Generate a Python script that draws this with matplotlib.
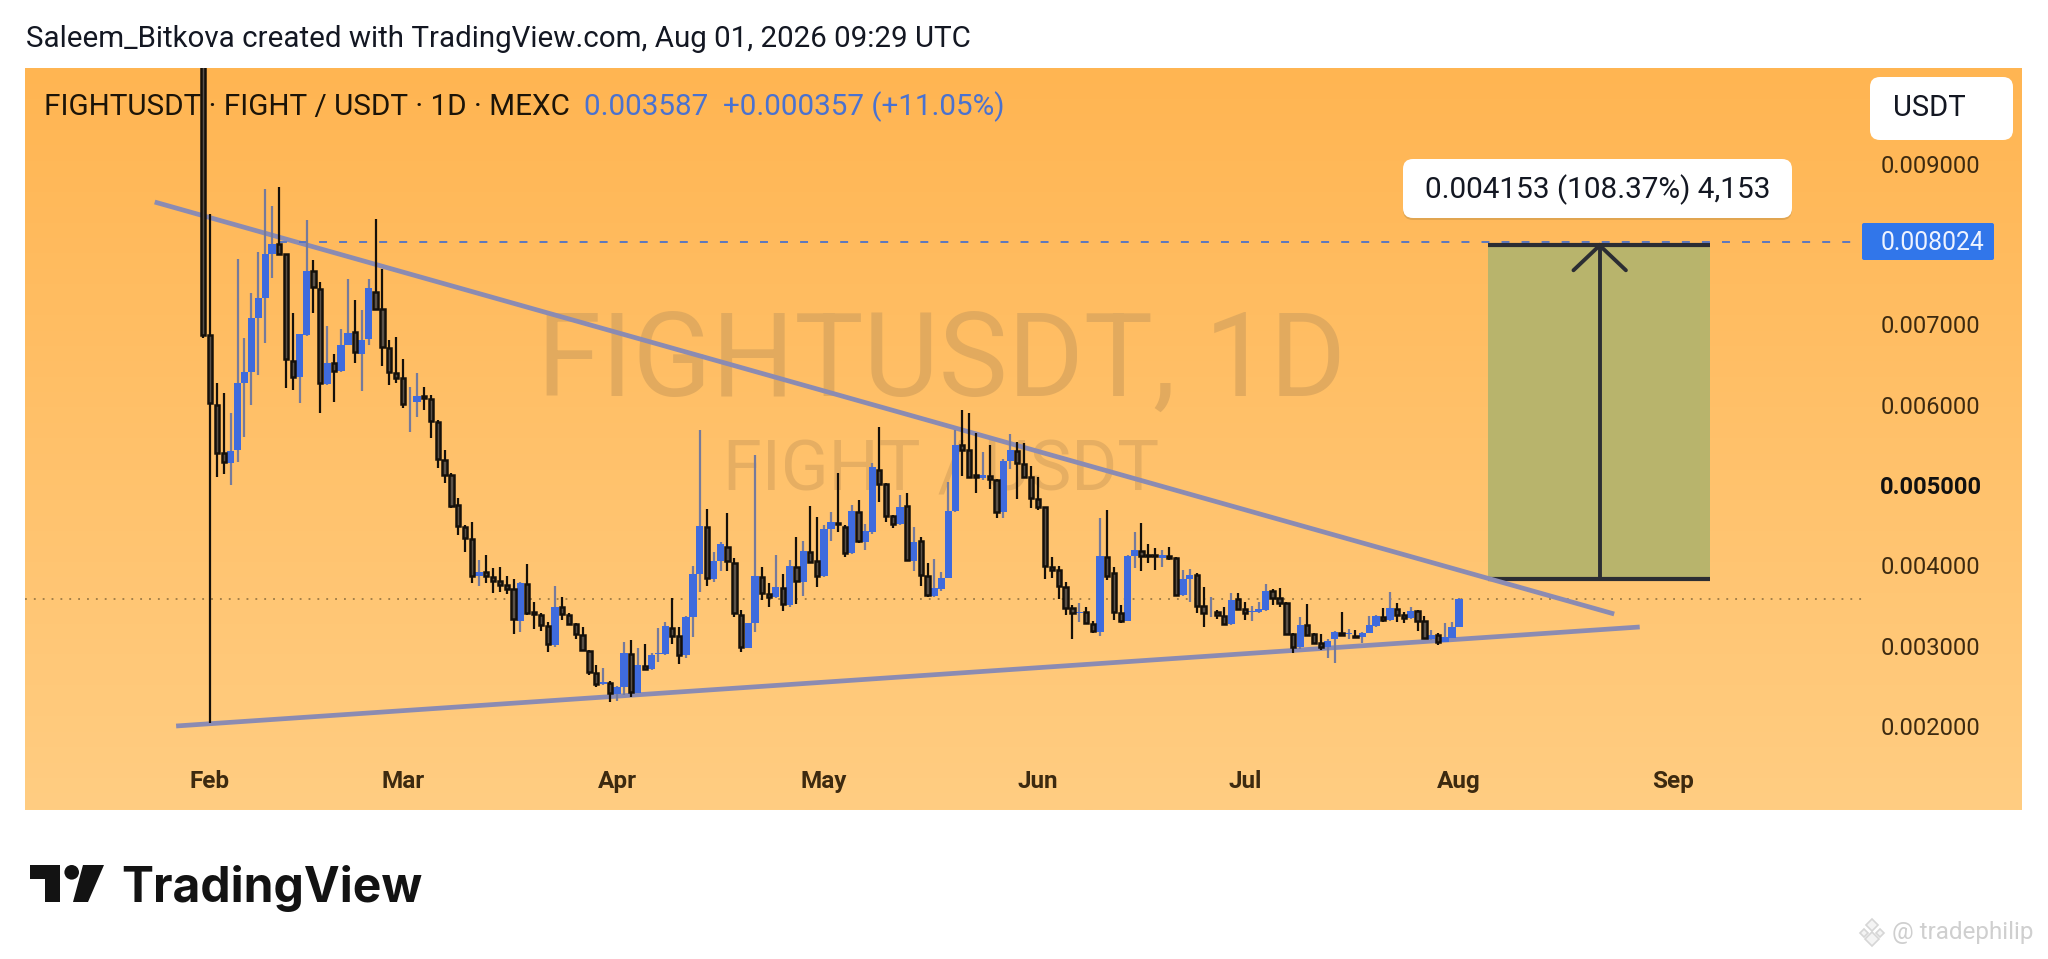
import numpy as np
import matplotlib
matplotlib.use("Agg")
import matplotlib.pyplot as plt
from matplotlib.patches import FancyBboxPatch, Polygon, Circle

plt.rcParams["font.family"] = ["Roboto", "DejaVu Sans"]

# daily candles from Jan 31, prices in 0.000001 USDT
opens = [30000,
    6868, 5997, 5403, 5270, 5436, 6275, 6403, 7076, 7333, 7873,
    8000, 7873, 6549, 6350, 6868, 7669, 7445, 6258, 6524, 6420,
    6744, 6901, 6632, 6818, 7399, 7188, 6702, 6391, 6337, 6030,
    6038, 6109, 6067, 5781, 5312, 5121, 4748, 4482, 4324, 3872,
    3913, 3860, 3806, 3756, 3706, 3312, 3768, 3420, 3382, 3249,
    3009, 3478, 3382, 3266, 3133, 2934, 2664, 2523, 2531, 2399,
    2490, 2893, 2415, 2752, 2710, 2897, 2897, 3225, 3121, 2884,
    3361, 3893, 4482, 3830, 4059, 4233, 4034, 3382, 2975, 3287,
    3860, 3644, 3602, 3714, 3507, 3984, 3793, 4167, 4055, 3868,
    4453, 4530, 4482, 4150, 4669, 4295, 4420, 5187, 5009, 4619,
    4511, 4739, 4059, 4304, 3872, 3623, 3706, 3847, 4677, 5499,
    5437, 5120, 5088, 5117, 5063, 4660, 5300, 5428, 5262, 5096,
    4826, 4723, 3975, 3942, 3726, 3473, 3411, 3415, 3270, 3174,
    4108, 3900, 3403, 3311, 4120, 4179, 4125, 4125, 4096, 4120,
    4096, 3631, 3826, 3880, 3494, 3427, 3423, 3369, 3270, 3577,
    3456, 3419, 3419, 3444, 3685, 3589, 3535, 3145, 2988, 3257,
    3141, 3037, 2979, 3079, 3154, 3145, 3124, 3112, 3162, 3249,
    3361, 3320, 3456, 3382, 3340, 3431, 3307, 3083, 3133, 3050,
    3100, 3230]
closes = [6868,
    6017, 5403, 5291, 5428, 6275, 6403, 7076, 7333, 7873, 8001,
    7873, 6569, 6350, 6877, 7669, 7462, 6267, 6524, 6420, 6744,
    6889, 6652, 6806, 7449, 7192, 6715, 6412, 6329, 6009, 6040,
    6113, 6080, 5802, 5325, 5125, 4739, 4490, 4337, 3872, 3913,
    3872, 3810, 3752, 3710, 3328, 3776, 3411, 3395, 3258, 3021,
    3478, 3395, 3270, 3146, 2947, 2677, 2519, 2548, 2407, 2490,
    2905, 2419, 2760, 2710, 2884, 2913, 3245, 3125, 2884, 3361,
    3893, 4494, 3839, 4059, 4262, 4055, 3403, 2980, 3287, 3868,
    3660, 3602, 3727, 3515, 3992, 3806, 4183, 4046, 3872, 4449,
    4540, 4520, 4158, 4677, 4308, 4428, 5221, 5013, 4619, 4511,
    4731, 4067, 4295, 3880, 3631, 3714, 3847, 4681, 5499, 5437,
    5096, 5105, 5121, 5071, 4669, 5300, 5437, 5270, 5096, 4835,
    4731, 3992, 3942, 3747, 3473, 3403, 3423, 3278, 3187, 4116,
    3867, 3415, 3311, 4116, 4191, 4120, 4115, 4115, 4129, 4087,
    3631, 3826, 3876, 3494, 3403, 3436, 3382, 3270, 3568, 3456,
    3403, 3436, 3452, 3685, 3598, 3535, 3145, 2988, 3257, 3133,
    3037, 2979, 3062, 3166, 3133, 3154, 3112, 3154, 3257, 3369,
    3320, 3465, 3382, 3340, 3431, 3311, 3091, 3133, 3050, 3104,
    3228, 3587]
highs = [40000,
    8375, 6267, 6142, 5893, 7814, 6827, 7395, 7906, 8682, 8474,
    8715, 7880, 7138, 6880, 8300, 7802, 7532, 6984, 6632, 6939,
    7561, 7304, 7180, 7561, 8308, 7686, 6806, 6848, 6569, 6217,
    6391, 6225, 6121, 5810, 5437, 5146, 4835, 4503, 4544, 4067,
    4129, 3963, 3984, 3872, 3826, 3797, 4017, 3548, 3403, 3299,
    3747, 3611, 3403, 3279, 3237, 2947, 2760, 2718, 2565, 2498,
    3050, 3071, 2967, 3021, 2905, 3216, 3299, 3590, 3237, 3370,
    3996, 5685, 4698, 4171, 4295, 4648, 4088, 3445, 3287, 5374,
    3984, 3785, 4129, 3893, 4067, 4349, 4308, 4739, 4598, 4503,
    4669, 5146, 4503, 4752, 4814, 4515, 5270, 5727, 5030, 4627,
    4876, 4905, 4474, 4349, 4034, 4075, 3913, 5042, 5685, 5935,
    5893, 5652, 5416, 5495, 5071, 5320, 5632, 5540, 5519, 5237,
    5104, 4731, 4108, 3992, 3797, 3506, 3535, 3485, 3311, 4585,
    4689, 3983, 3506, 4129, 4419, 4531, 4262, 4220, 4191, 4224,
    4108, 3942, 3950, 3900, 3735, 3602, 3444, 3477, 3651, 3660,
    3548, 3494, 3548, 3764, 3701, 3714, 3548, 3162, 3353, 3514,
    3154, 3145, 3079, 3187, 3415, 3203, 3195, 3174, 3369, 3382,
    3465, 3664, 3527, 3423, 3485, 3444, 3369, 3195, 3154, 3278,
    3290, 3595]
lows = [6827,
    2040, 5104, 5138, 5001, 5291, 5602, 5997, 6370, 6764, 7574,
    7864, 6204, 6184, 6017, 6860, 7138, 5893, 6246, 6038, 6412,
    6740, 6524, 6171, 6744, 7180, 6482, 6246, 6267, 5955, 5665,
    5852, 5935, 5582, 5208, 5030, 4710, 4378, 4171, 3777, 3743,
    3777, 3660, 3673, 3644, 3142, 3166, 3382, 3204, 3187, 2926,
    2988, 3320, 3258, 3079, 2938, 2635, 2490, 2511, 2303, 2312,
    2386, 2365, 2407, 2697, 2697, 2801, 2884, 3017, 2772, 2851,
    3104, 3673, 3743, 3797, 3930, 3930, 3361, 2926, 2967, 3175,
    3569, 3478, 3590, 3436, 3486, 3519, 3619, 4026, 3735, 3860,
    4304, 4420, 4100, 4142, 4275, 4192, 4391, 4793, 4544, 4461,
    4503, 4059, 3934, 3743, 3602, 3611, 3685, 3839, 4669, 5113,
    5084, 4905, 5063, 4947, 4586, 4586, 5196, 4822, 5084, 4719,
    4689, 3826, 3838, 3577, 3382, 3083, 3299, 3270, 3162, 3120,
    3817, 3320, 3278, 3311, 3971, 3934, 4033, 3942, 3975, 4066,
    3622, 3618, 3548, 3411, 3228, 3353, 3328, 3257, 3257, 3452,
    3320, 3311, 3411, 3436, 3506, 3485, 3141, 2913, 2954, 3120,
    3029, 2946, 2851, 2788, 3124, 3079, 3108, 3037, 3154, 3237,
    3299, 3311, 3290, 3278, 3332, 3187, 3079, 3071, 3004, 3046,
    3091, 3228]

price_ticks = [2000, 3000, 4000, 5000, 6000, 7000, 9000]
month_days = [0, 28, 59, 89, 120, 150, 181, 212]
month_labels = ["Feb", "Mar", "Apr", "May", "Jun", "Jul", "Aug", "Sep"]

# drawings: (day, price)
upper_line = [(-8.0, 8525), (203.5, 3395)]
lower_line = [(-4.9, 2000), (207.2, 3233)]
measure_days = [185.2, 217.4]
measure_from, measure_to = 3832, 7985
last_price = 3587
alert_price = 8024

BLUE = "#3f6bdd"
BLUE_WICK = "#757a9c"
BODY = "#5c5248"
INK = "#15100a"
LINE = "#8b8bb2"
AXIS_TXT = "#3d2a10"
MEASURE = "#2b2d33"

fig = plt.figure(figsize=(20.48, 9.59), dpi=100, facecolor="white")
ax = fig.add_axes([25 / 2048, 1 - 810 / 959, 1997 / 2048, 742 / 959])

# pixel scale of the source chart: 6.9 px a day, 80.3 px per 0.001
x_range = (-26.8, 262.6)
y_range = (954, 10194)

gradient = np.linspace(0, 1, 256).reshape(-1, 1)
cmap = matplotlib.colors.LinearSegmentedColormap.from_list("bg", ["#ffb552", "#ffcd82"])
ax.imshow(gradient, cmap=cmap, aspect="auto", extent=(0, 1, 0, 1),
          transform=ax.transAxes, zorder=0)
ax.set_xlim(*x_range)
ax.set_ylim(*y_range)

days = np.arange(len(opens)) - 1
o, h, l, c = map(np.array, (opens, highs, lows, closes))
up = c >= o

# watermark
ax.text(0.4587, 0.6020, "FIGHTUSDT, 1D", transform=ax.transAxes, ha="center", va="center",
        fontsize=83.5, color="#e2aa5e", zorder=1)
ax.text(0.4587, 0.4569, "FIGHT / USDT", transform=ax.transAxes, ha="center", va="center",
        fontsize=50.5, color="#e6ae62", zorder=1)

# measure tool
ax.fill_between(measure_days, measure_from, measure_to, color="#b8b46c", lw=0, zorder=2)
ax.hlines([measure_from, measure_to], *measure_days, color=MEASURE, lw=3.0, zorder=3)
mid_day = 201.4
ax.plot([mid_day, mid_day], [measure_from, measure_to], color=MEASURE, lw=2.8, zorder=3)
ax.plot([mid_day - 3.8, mid_day, mid_day + 3.8], [measure_to - 310, measure_to, measure_to - 310],
        color=MEASURE, lw=2.8, solid_capstyle="round", solid_joinstyle="miter", zorder=3)

# trend lines
for line in (upper_line, lower_line):
    xs, ys = zip(*line)
    ax.plot(xs, ys, color=LINE, lw=3.4, solid_capstyle="butt", zorder=3)

# price lines
ax.hlines(last_price, x_range[0], 239.5, color="#8a6d3e", lw=1.1, linestyles=(0, (1.2, 4.6)), zorder=2)
ax.hlines(alert_price, 10, 240.5, color="#4f72c6", lw=1.3, linestyles=(0, (4.4, 6.7)), zorder=3.5)

# candles
ax.vlines(days[up], l[up], h[up], color=BLUE_WICK, lw=1.6, zorder=4)
ax.vlines(days[~up], l[~up], h[~up], color=INK, lw=1.6, zorder=5)
ax.bar(days[up], (c - o)[up], bottom=o[up], width=1.05, color=BLUE, lw=0, zorder=4.5)
ax.bar(days[~up], (o - c)[~up], bottom=c[~up], width=0.62, color=BODY,
       edgecolor=INK, lw=1.8, zorder=5.5)

# axes inside the panel, the way the chart has them
ax.set_xticks(month_days)
ax.set_xticklabels(month_labels, fontsize=17.5, color=AXIS_TXT, fontweight="bold")
ax.set_yticks(price_ticks)
ax.set_yticklabels([f"{p / 1e6:.6f}" for p in price_ticks], fontsize=17, color=AXIS_TXT)
ax.yaxis.tick_right()
ax.tick_params(axis="y", length=0, pad=-102)
ax.tick_params(axis="x", length=0, pad=-29)
for tick, p in zip(ax.yaxis.get_major_ticks(), price_ticks):
    if p == 5000:
        tick.label2.set_fontweight("bold")
        tick.label2.set_color("#111111")
for s in ax.spines.values():
    s.set_visible(False)

# overlay in image pixels for labels and logo
ov = fig.add_axes([0, 0, 1, 1], facecolor="none")
ov.set_xlim(0, 2048)
ov.set_ylim(959, 0)
ov.axis("off")


def box(x0, y0, x1, y1, color, r=8, shadow=False):
    if shadow:
        ov.add_patch(FancyBboxPatch((x0 + r, y0 + r + 2), x1 - x0 - 2 * r, y1 - y0 - 2 * r,
                                    boxstyle=f"round,pad={r},rounding_size={r}",
                                    fc="#8a6a30", ec="none", alpha=0.25))
    ov.add_patch(FancyBboxPatch((x0 + r, y0 + r), x1 - x0 - 2 * r, y1 - y0 - 2 * r,
                                boxstyle=f"round,pad={r},rounding_size={r}", fc=color, ec="none"))


ov.text(26, 39, "Saleem_Bitkova created with TradingView.com, Aug 01, 2026 09:29 UTC",
        fontsize=21.27, color="#131722", va="center")
ov.text(44, 107, "FIGHTUSDT · FIGHT / USDT · 1D · MEXC", fontsize=21.3, color="#1c1408", va="center")
ov.text(584, 107, "0.003587  +0.000357 (+11.05%)", fontsize=21.3, color="#4a72d0", va="center")

box(1870, 77, 2013, 140, "white", r=10)
ov.text(1893, 108, "USDT", fontsize=21, color="#131722", va="center")
box(1403, 159, 1792, 218, "white", r=10, shadow=True)
ov.text(1597.5, 190, "0.004153 (108.37%) 4,153", fontsize=21.4, color="#131722", va="center", ha="center")
box(1862, 223, 1994, 260, "#3176ea", r=2)
ov.text(1933, 243.5, "0.008024", fontsize=17.8, color="#eef3ff", va="center", ha="center")

# TradingView logo
ov.add_patch(Polygon([(30, 865), (60, 865), (60, 902), (45, 902), (45, 879), (30, 879)], fc="#131313"))
ov.add_patch(Circle((71.7, 872.3), 7.3, fc="#131313"))
ov.add_patch(Polygon([(83, 865), (104, 865), (88, 902), (73, 902)], fc="#131313"))
ov.text(121, 902, "TradingView", fontsize=34.6, family="Inter", fontweight="bold", color="#131313", va="baseline")

# corner credit with its small diamond mark
for dx, dy, r in [(0, -8, 6), (-8, 0, 4), (8, 0, 4), (0, 6, 7)]:
    ov.add_patch(Polygon([(1872 + dx, 933 + dy - r), (1872 + dx + r, 933 + dy),
                          (1872 + dx, 933 + dy + r), (1872 + dx - r, 933 + dy)],
                         fc="#f4f4f4", ec="#d6d6d6", lw=1.2))
ov.text(1892, 933, "@ tradephilip", fontsize=17.5, color="#cfcfcf", va="center")

fig.savefig("out.png", dpi=100)
